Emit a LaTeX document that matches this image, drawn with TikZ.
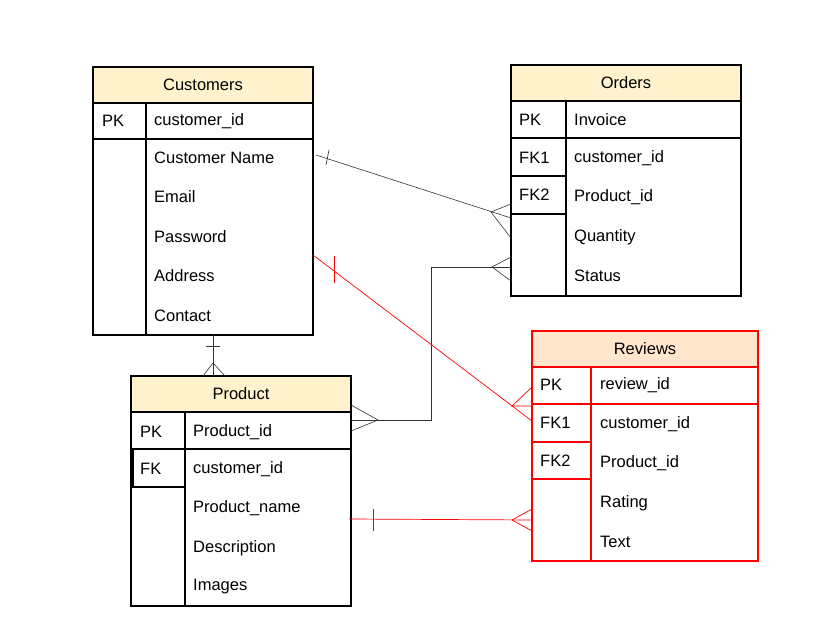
\documentclass[tikz,border=0pt]{standalone}
\usepackage{fontspec}
\setmainfont{Liberation Sans}
\definecolor{hy}{HTML}{FFF2CC}
\definecolor{ho}{HTML}{FFE6CC}
\begin{document}
\begin{tikzpicture}[x=1pt,y=-1pt,
  box/.style={draw=black,line width=1.3pt},
  hdr/.style={box,fill=hy},
  rbox/.style={draw=red,line width=1.3pt},
  rhdr/.style={rbox,fill=ho},
  t/.style={anchor=west,font=\fontsize{16.5}{19}\selectfont,inner sep=0pt},
  h/.style={font=\fontsize{16.5}{19}\selectfont,inner sep=0pt},
  rel/.style={draw=black!80,line width=0.6pt},
  rrel/.style={draw=red,line width=0.7pt}]
\useasboundingbox (0,0) rectangle (839,629);
\fill[white] (0,0) rectangle (839,629);
% Customers
\draw[hdr] (93,67) rectangle (313,103);
\draw[box] (93,103) rectangle (313,139);
\draw[box] (93,139) rectangle (313,335);
\draw[box] (146,103) -- (146,335);
\node[h] (ch) at (203,85) {Customers};
\node[t] (cpk) at (102,121) {PK};
\node[t] (c1) at (154,121) {customer\_id};
\node[t] (c2) at (154,158) {Customer Name};
\node[t] (c3) at (154,197) {Email};
\node[t] (c4) at (154,237) {Password};
\node[t] (c5) at (154,276) {Address};
\node[t] (c6) at (154,316) {Contact};
% Orders
\draw[hdr] (511,65) rectangle (741,101);
\draw[box] (511,101) rectangle (741,138);
\draw[box] (511,138) rectangle (741,296);
\draw[box] (511,138) rectangle (566,176);
\draw[box] (511,176) rectangle (566,214);
\draw[box] (566,101) -- (566,296);
\draw[box] (511,214) -- (511,296);
\node[h] (oh) at (626,83) {Orders};
\node[t] (opk) at (519,120) {PK};
\node[t] (of1) at (519,158) {FK1};
\node[t] (of2) at (519,195) {FK2};
\node[t] (o1) at (574,120) {Invoice};
\node[t] (o2) at (574,158) {customer\_id};
\node[t] (o3) at (574,197) {Product\_id};
\node[t] (o4) at (574,237) {Quantity};
\node[t] (o5) at (574,276) {Status};
% Reviews
\draw[rhdr] (532,331) rectangle (758,367);
\draw[rbox] (532,367) rectangle (758,404);
\draw[rbox] (532,404) rectangle (758,561);
\draw[rbox] (532,404) rectangle (591,442);
\draw[rbox] (532,442) rectangle (591,479);
\draw[rbox] (591,367) -- (591,561);
\node[h] (rh) at (645,349) {Reviews};
\node[t] (rpk) at (540,385) {PK};
\node[t] (rf1) at (540,423) {FK1};
\node[t] (rf2) at (540,461) {FK2};
\node[t] (r1) at (600,385) {review\_id};
\node[t] (r2) at (600,424) {customer\_id};
\node[t] (r3) at (600,463) {Product\_id};
\node[t] (r4) at (600,503) {Rating};
\node[t] (r5) at (600,542) {Text};
% Product
\draw[hdr] (131,376) rectangle (351,412);
\draw[box] (131,412) rectangle (351,449);
\draw[box] (131,449) rectangle (351,606);
\draw[box] (133,449) rectangle (185,487);
\draw[box] (185,412) -- (185,606);
\node[h] (ph) at (241,394) {Product};
\node[t] (ppk) at (140,432) {PK};
\node[t] (pfk) at (140,469) {FK};
\node[t] (p1) at (193,432) {Product\_id};
\node[t] (p2) at (193,469) {customer\_id};
\node[t] (p3) at (193,508) {Product\_name};
\node[t] (p4) at (193,548) {Description};
\node[t] (p5) at (193,587) {Images};
% connectors
\coordinate (a1) at (316,155); \coordinate (a2) at (511,218);
\draw[rel] (a1) -- (a2);
\draw[rel] (329,150) -- (326,165);
\draw[rel] (511,204) -- (491,212) -- (511,238);
\coordinate (b1) at (351,420); \coordinate (b2) at (511,267);
\draw[rel] (b1) -- (431,420) -- (431,267) -- (b2);
\draw[rel] (351,405) -- (378,420) -- (351,431);
\draw[rel] (511,257) -- (492,267) -- (511,281);
\coordinate (d1) at (213,335); \coordinate (d2) at (213,376);
\draw[rel] (d1) -- (d2);
\draw[rel] (206,346) -- (220,346);
\draw[rel] (203,376) -- (213,363) -- (225,376);
\coordinate (e1) at (313,255); \coordinate (e2) at (532,421);
\draw[rrel] (e1) -- (e2);
\draw[rrel] (334,256) -- (334,283);
\draw[rrel] (532,387) -- (512,406) -- (532,406);
\coordinate (f1) at (349,519); \coordinate (f2) at (532,520);
\draw[rrel] (f1) -- (f2);
\draw[rrel] (373,509) -- (373,531);
\draw[rrel] (532,509) -- (512,520) -- (532,531);
\end{tikzpicture}
\end{document}
